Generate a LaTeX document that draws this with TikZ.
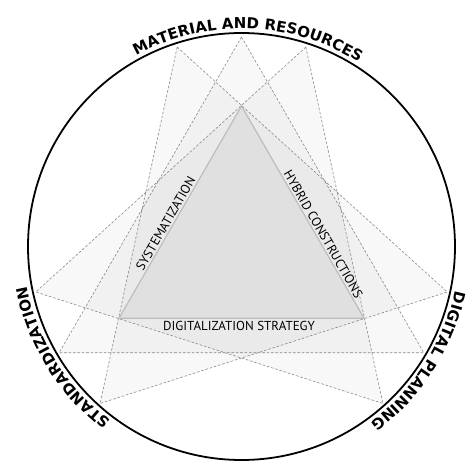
\documentclass[tikz,border=0pt]{standalone}
\usepackage{fontspec}
\setmainfont{PT Sans}
\newfontfamily\outerfont{DejaVu Sans}
\newcommand\ringfont{\outerfont\bfseries\fontsize{15}{15}\selectfont}
\usetikzlibrary{decorations.text}
\begin{document}
\begin{tikzpicture}[x=1pt,y=1pt,
  dashtri/.style={draw=black!46, line width=0.6pt, dash pattern=on 2.6pt off 1.8pt, fill=black, fill opacity=0.028},
  innertri/.style={draw=black!26, line width=1.2pt, fill=black!12},
  edgelabel/.style={font=\fontsize{13}{14}\selectfont, inner sep=0pt, text=black},
  ringlabel/.style={decorate, decoration={text along path, text={|\ringfont|#1}, text align=center}}
]
\useasboundingbox (-241.5,-227.5) rectangle (232.5,246.5);
\begin{scope}[shift={(0,-1)}]
  % large dashed triangles
  \coordinate (A1) at (90:210.5);   \coordinate (A2) at (210:210.5);   \coordinate (A3) at (330:210.5);
  \coordinate (B1) at (107.8:210.5); \coordinate (B2) at (227.8:210.5); \coordinate (B3) at (347.8:210.5);
  \coordinate (C1) at (72.2:210.5);  \coordinate (C2) at (192.2:210.5); \coordinate (C3) at (312.2:210.5);
  \draw[dashtri] (A1) -- (A2) -- (A3) -- cycle;
  \draw[dashtri] (B1) -- (B2) -- (B3) -- cycle;
  \draw[dashtri] (C1) -- (C2) -- (C3) -- cycle;
  % inner triangle
  \coordinate (AP) at (90:141.5); \coordinate (BL) at (210:141.5); \coordinate (BR) at (330:141.5);
  \draw[innertri] (AP) -- (BL) -- (BR) -- cycle;
\end{scope}
\path (BL) -- (AP) node[edgelabel, pos=0.43, sloped, above=2pt] (sys) {SYSTEMATIZATION};
\path (AP) -- (BR) node[edgelabel, pos=0.62, sloped, above=2pt] (hyb) {HYBRID CONSTRUCTIONS};
\path (BL) -- (BR) node[edgelabel, pos=0.49, below=2.5pt] (dig) {DIGITALIZATION STRATEGY};
% outer circle
\draw[line width=1.8pt] (0,0) circle[radius=213.5];
\path[ringlabel={MATERIAL AND RESOURCES}] (133.2:218) arc[start angle=133.2, end angle=43.2, radius=218];
\path[ringlabel={STANDARDIZATION}] (256.75:218) arc[start angle=256.75, end angle=166.75, radius=218];
\path[ringlabel={DIGITAL PLANNING}] (12.2:218) arc[start angle=12.2, end angle=-77.8, radius=218];
\end{tikzpicture}
\end{document}
